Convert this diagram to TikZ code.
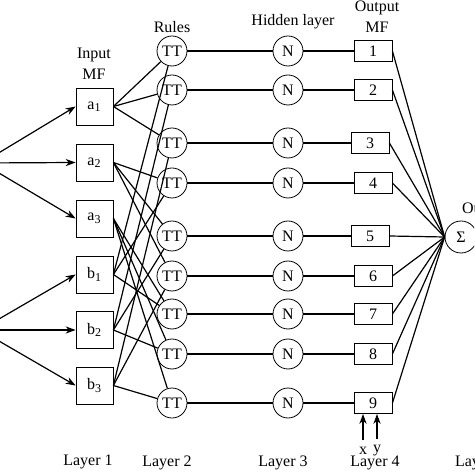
\documentclass[tikz,border=0pt]{standalone}
\usepackage{fontspec}
\setmainfont{Liberation Serif}
\usetikzlibrary{arrows.meta}

\begin{document}
\begin{tikzpicture}[
		x=0.5pt, y=-0.5pt,
		every node/.style={font=\fontsize{8}{10.5}\selectfont},
		mfbox/.style={draw, rectangle, minimum size=18.5pt, inner sep=0pt},
		ttnode/.style={draw, circle, minimum size=15pt, inner sep=0pt},
		outbox/.style={draw, rectangle, minimum width=19pt, minimum height=10.5pt, inner sep=0pt},
		link/.style={line width=0.6pt},
		arrow/.style={-{Stealth[length=5pt, width=3.6pt]}, line width=0.6pt}
		]
		\useasboundingbox (0,0) rectangle (474,474);
		\clip (0,0) rectangle (474,474);
		
		% Layer 1
		\foreach \v/\i/\y in {a/1/106.5, a/2/162.5, a/3/218.5, b/1/274.5, b/2/330, b/3/385.5}
			\node[mfbox] (\v\i) at (94.5,\y) {\v\textsubscript{\i}};
		
		% Layers 2, 3 and 4
		\foreach \i/\y/\x in {1/51/373, 2/90/373, 3/143/370, 4/183/373, 5/236/370, 6/276/373, 7/314/373, 8/354/373, 9/403/373} {
			\node[ttnode] (r\i) at (172,\y) {TT};
			\node[ttnode] (h\i) at (288,\y) {N};
			\node[outbox] (o\i) at (\x,\y) {\i};
			\draw[link] (r\i) -- (h\i);
			\draw[link] (h\i) -- (o\i);
		}
		
		% Layer 5
		\node[ttnode, minimum size=16pt] (sum) at (461,237) {Σ};
		
		% Inputs
		\coordinate (inx) at (-18,163);
		\coordinate (iny) at (-20,330);
		\foreach \i in {1,2,3} {
			\draw[arrow] (inx) -- (a\i.west);
			\draw[arrow] (iny) -- (b\i.west);
		}
		
		% Rule links
		\foreach \j in {1,2,3}
			\foreach \k in {1,2,3} {
				\pgfmathtruncatemacro\r{3*(\j-1)+\k}
				\draw[link] (a\j.east) -- (r\r);
				\draw[link] (b\k.east) -- (r\r);
			}
		
		% Output links
		\foreach \i in {1,...,9}
			\draw[link] (o\i.east) -- (sum.west);
		
		% Consequent inputs
		\node (xl) at (363,451) {x};
		\node (yl) at (377,451) {y};
		\draw[arrow] (xl.north) -- (xl.north |- o9.south);
		\draw[arrow] (yl.north) -- (yl.north |- o9.south);
		
		% Labels
		\node[align=center] (inlab) at (94,64) {Input\\MF};
		\node (rulelab) at (172,27) {Rules};
		\node (hidlab) at (293,22) {Hidden layer};
		\node[align=center] (outmflab) at (377,17) {Output\\MF};
		\node[anchor=west] (outlab) at (455,210) {Output};
		\node (l1) at (88,462) {Layer 1};
		\node (l2) at (167,463) {Layer 2};
		\node (l3) at (283,463) {Layer 3};
		\node (l4) at (375,463) {Layer 4};
		\node[anchor=west] (l5) at (448,463) {Layer 5};
	\end{tikzpicture}
\end{document}
